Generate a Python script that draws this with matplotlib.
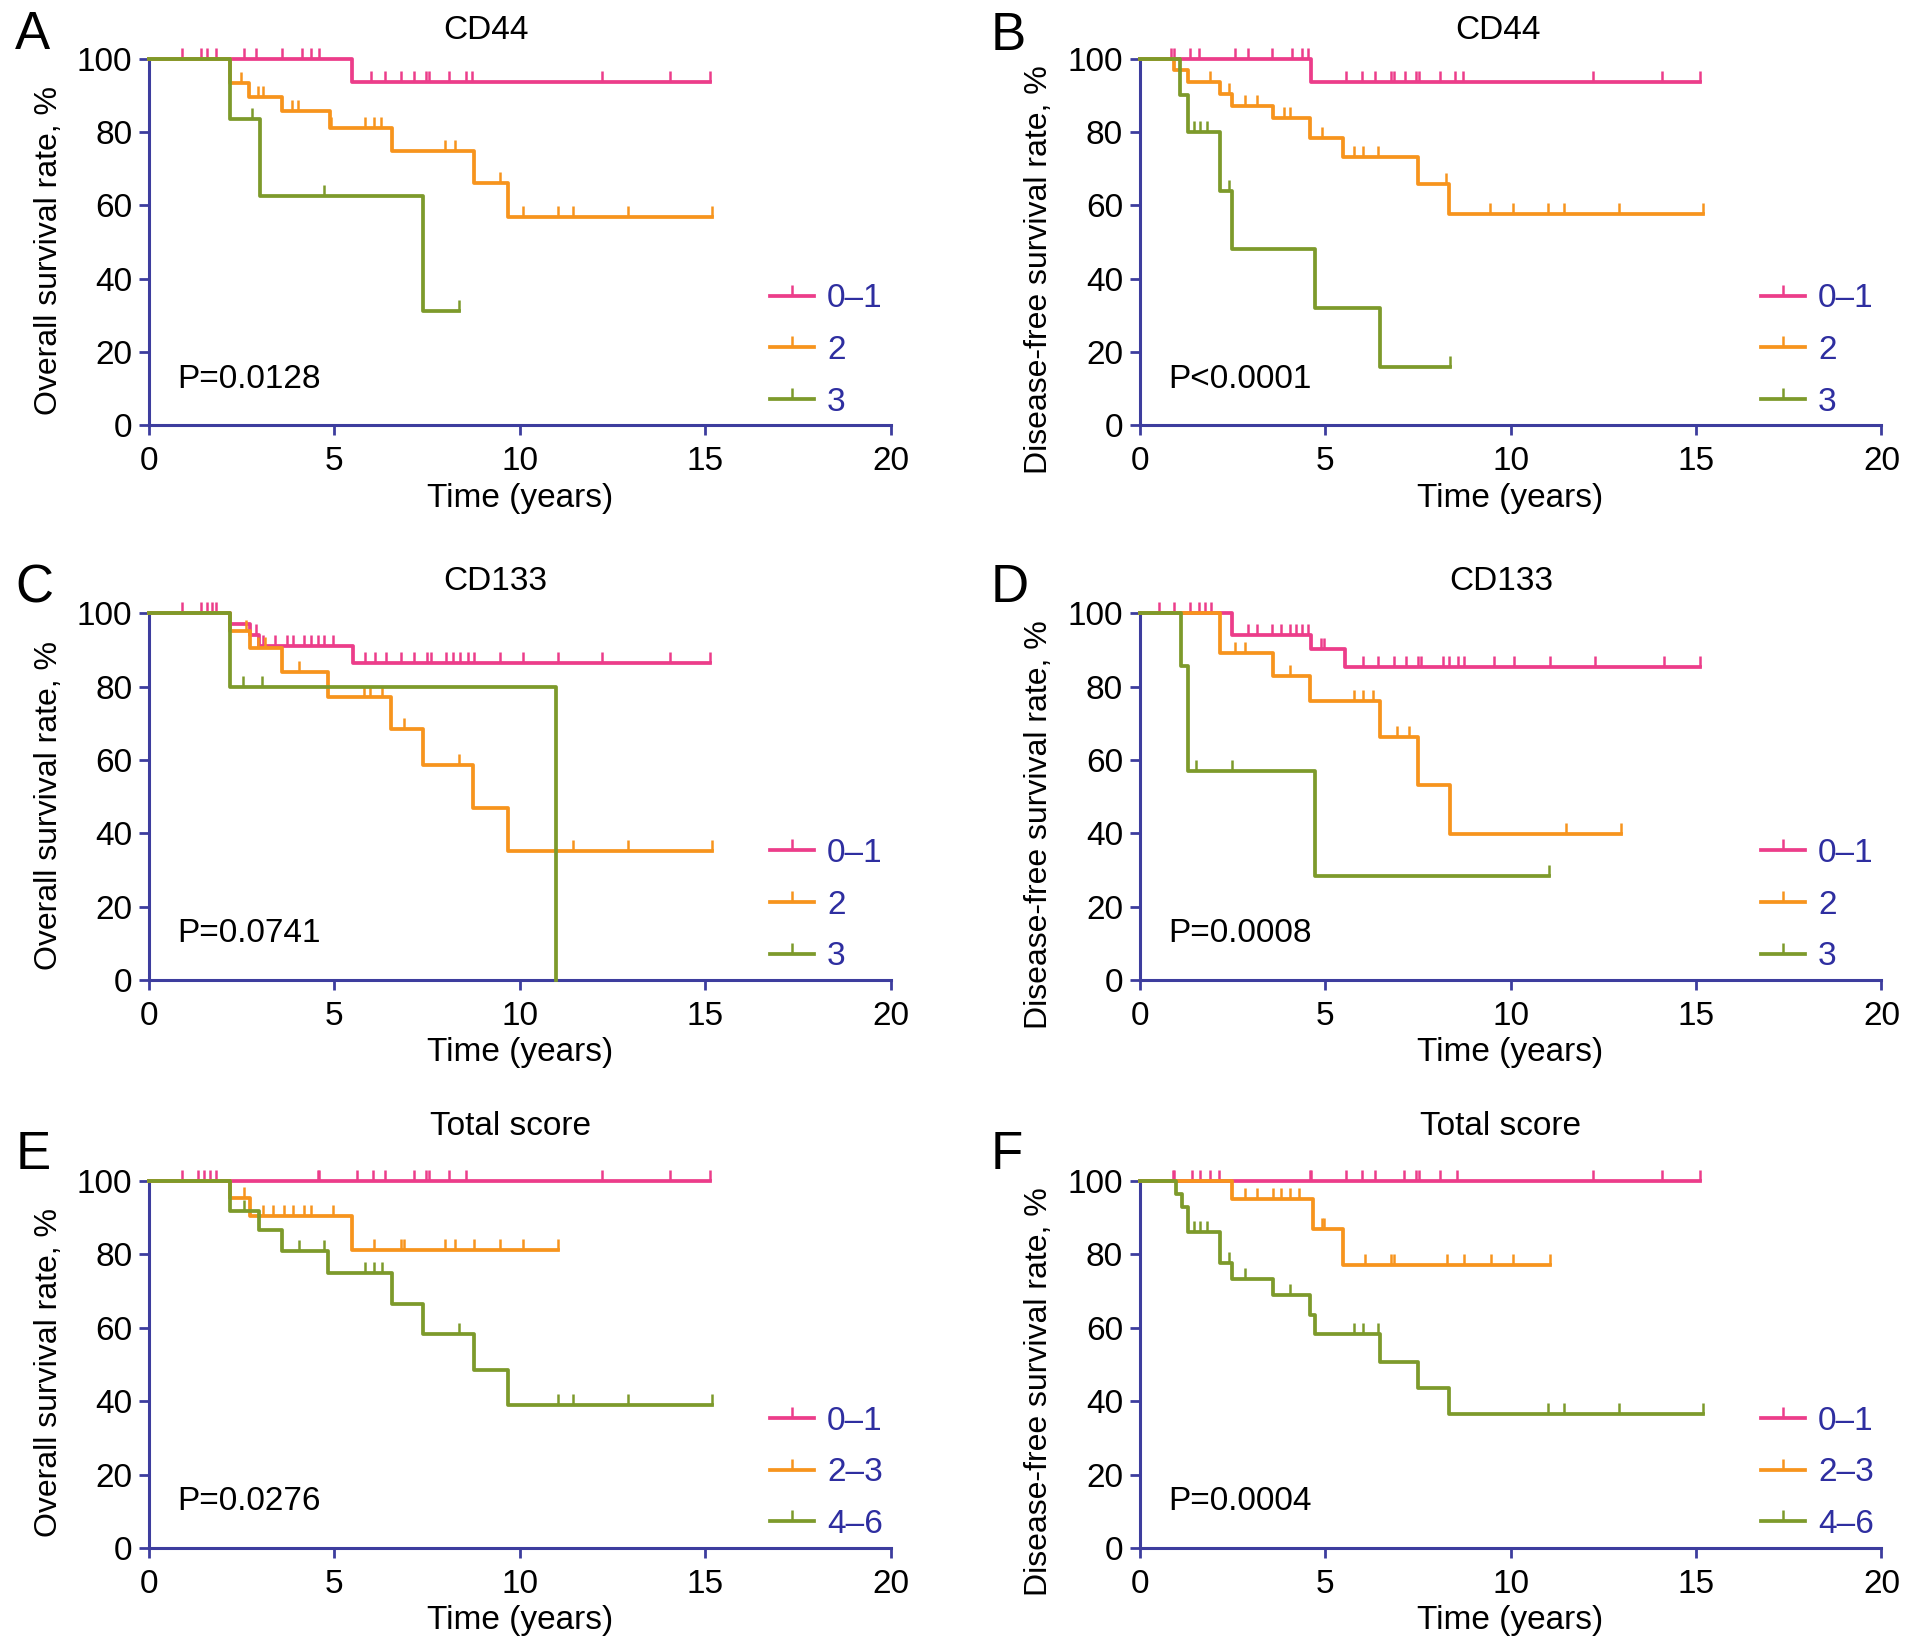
import numpy as np
import matplotlib
matplotlib.use("Agg")
import matplotlib.pyplot as plt
from matplotlib.lines import Line2D

plt.rcParams['font.family'] = ['Liberation Sans', 'DejaVu Sans']

# ---------------- data ----------------
panel_letters = ["A", "B", "C", "D", "E", "F"]
panel_titles = ["CD44", "CD44", "CD133", "CD133", "Total score", "Total score"]
y_labels = ["Overall survival rate, %", "Disease-free survival rate, %"] * 3
p_values = ["P=0.0128", "P<0.0001", "P=0.0741", "P=0.0008", "P=0.0276", "P=0.0004"]
group_labels_cd = ["0\u20131", "2", "3"]
group_labels_total = ["0\u20131", "2\u20133", "4\u20136"]
x_ticks = [0, 5, 10, 15, 20]
y_ticks = [0, 20, 40, 60, 80, 100]

# Panel A (CD44, OS)
A_g1_t = [5.49]; A_g1_s = [93.5]; A_g1_end = 15.12
A_g1_c = [0.9, 1.4, 1.57, 1.82, 2.56, 2.89, 3.59, 4.13, 4.38, 4.58, 5.98, 6.36, 6.81, 7.14, 7.47, 7.55, 8.1, 8.55, 8.71, 12.23, 14.05, 15.12]
A_g2_t = [2.2, 2.69, 3.59, 4.88, 6.56, 8.76, 9.67]; A_g2_s = [93.3, 89.6, 85.7, 81.1, 74.7, 66.1, 56.7]; A_g2_end = 15.17
A_g2_c = [2.48, 2.93, 3.09, 3.85, 4.02, 4.9, 5.82, 6.07, 6.25, 7.98, 8.26, 9.47, 10.08, 11.02, 11.44, 12.93, 15.17]
A_g3_t = [2.2, 3.0, 7.4]; A_g3_s = [83.4, 62.4, 31.2]; A_g3_end = 8.35
A_g3_c = [2.78, 4.71, 8.35]

# Panel B (CD44, DFS)
B_g1_t = [4.63]; B_g1_s = [93.5]; B_g1_end = 15.12
B_g1_c = [0.85, 0.94, 1.35, 1.6, 2.58, 2.91, 3.57, 4.11, 4.39, 4.55, 5.57, 6.0, 6.36, 6.77, 6.85, 7.15, 7.46, 7.54, 8.09, 8.5, 8.71, 12.23, 14.08, 15.12]
B_g2_t = [0.94, 1.31, 2.17, 2.5, 3.6, 4.6, 5.49, 7.51, 8.33]; B_g2_s = [96.8, 93.6, 90.4, 87.1, 83.9, 78.2, 73.2, 65.9, 57.6]; B_g2_end = 15.18
B_g2_c = [1.89, 2.42, 2.83, 3.16, 3.9, 4.06, 4.93, 5.78, 6.03, 6.44, 8.25, 9.45, 10.06, 11.01, 11.45, 12.93, 15.18]
B_g3_t = [1.1, 1.31, 2.17, 2.5, 4.72, 6.49]; B_g3_s = [90.0, 80.0, 64.0, 48.0, 32.0, 16.0]; B_g3_end = 8.38
B_g3_c = [1.48, 1.64, 1.81, 2.42, 8.38]

# Panel C (CD133, OS)
C_g1_t = [2.2, 2.73, 2.98, 5.5]; C_g1_s = [97.1, 94.1, 91.0, 86.3]; C_g1_end = 15.12
C_g1_c = [0.9, 1.4, 1.57, 1.7, 1.82, 2.89, 3.09, 3.39, 3.72, 3.88, 4.17, 4.38, 4.55, 4.71, 4.96, 5.82, 6.1, 6.4, 6.8, 7.14, 7.5, 7.6, 8.0, 8.2, 8.38, 8.6, 8.76, 9.47, 10.08, 11.02, 12.23, 14.05, 15.12]
C_g2_t = [2.2, 2.73, 3.59, 4.83, 6.53, 7.4, 8.73, 9.67]; C_g2_s = [95.2, 90.6, 83.9, 77.1, 68.5, 58.7, 46.9, 35.2]; C_g2_end = 15.17
C_g2_c = [2.61, 2.93, 3.14, 4.05, 5.79, 5.95, 6.28, 6.89, 8.35, 11.44, 12.93, 15.17]
C_g3_t = [2.2, 10.99]; C_g3_s = [80.0, 0.0]; C_g3_end = 10.99
C_g3_c = [2.53, 3.06]

# Panel D (CD133, DFS)
D_g1_t = [2.5, 4.63, 5.54]; D_g1_s = [94.0, 90.2, 85.4]; D_g1_end = 15.12
D_g1_c = [0.53, 0.94, 1.35, 1.59, 1.76, 1.92, 2.93, 3.16, 3.57, 3.81, 4.06, 4.22, 4.39, 4.55, 4.88, 4.96, 6.03, 6.44, 6.85, 7.18, 7.51, 7.59, 8.17, 8.33, 8.58, 8.74, 9.56, 10.09, 11.07, 12.27, 14.13, 15.12]
D_g2_t = [2.17, 3.6, 4.6, 6.49, 7.51, 8.36]; D_g2_s = [89.2, 82.8, 76.1, 66.2, 53.2, 39.8]; D_g2_end = 12.98
D_g2_c = [2.58, 2.83, 4.06, 5.78, 6.03, 6.28, 6.94, 7.26, 11.5, 12.98]
D_g3_t = [1.12, 1.31, 4.72]; D_g3_s = [85.7, 57.0, 28.5]; D_g3_end = 11.04
D_g3_c = [1.51, 2.5, 11.04]

# Panel E (Total score, OS)
E_g1_t = []; E_g1_s = []; E_g1_end = 15.12
E_g1_c = [0.9, 1.32, 1.49, 1.65, 1.82, 4.55, 4.59, 5.6, 6.03, 6.36, 7.16, 7.47, 7.55, 8.1, 8.55, 12.23, 14.05, 15.12]
E_g2_t = [2.2, 2.73, 5.49]; E_g2_s = [95.3, 90.5, 81.3]; E_g2_end = 11.02
E_g2_c = [2.56, 3.09, 3.35, 3.64, 3.88, 4.17, 4.38, 4.96, 6.08, 6.81, 6.89, 7.98, 8.26, 8.76, 9.47, 10.08, 11.02]
E_g3_t = [2.2, 2.98, 3.59, 4.83, 6.56, 7.4, 8.76, 9.67]; E_g3_s = [91.8, 86.7, 81.0, 74.9, 66.6, 58.3, 48.6, 38.9]; E_g3_end = 15.17
E_g3_c = [2.56, 4.05, 4.71, 5.82, 6.07, 6.28, 8.35, 11.02, 11.44, 12.93, 15.17]

# Panel F (Total score, DFS)
F_g1_t = []; F_g1_s = []; F_g1_end = 15.12
F_g1_c = [0.89, 0.94, 1.4, 1.63, 1.89, 2.14, 4.6, 4.63, 5.57, 6.0, 6.36, 7.13, 7.46, 7.54, 8.09, 8.55, 12.23, 14.08, 15.12]
F_g2_t = [2.5, 4.67, 5.49]; F_g2_s = [95.0, 86.9, 77.2]; F_g2_end = 11.07
F_g2_c = [2.83, 3.16, 3.6, 3.81, 4.06, 4.31, 4.93, 4.96, 6.08, 6.77, 6.85, 8.29, 8.74, 9.48, 10.06, 11.07]
F_g3_t = [0.99, 1.15, 1.31, 2.17, 2.5, 3.6, 4.6, 4.72, 6.49, 7.51, 8.33]
F_g3_s = [96.6, 93.0, 86.1, 77.7, 73.4, 68.9, 63.6, 58.2, 50.8, 43.7, 36.4]; F_g3_end = 15.18
F_g3_c = [1.48, 1.64, 1.81, 2.42, 2.83, 4.06, 5.78, 6.03, 6.44, 11.01, 11.45, 12.93, 15.18]

panels = [
    [(A_g1_t, A_g1_s, A_g1_end, A_g1_c), (A_g2_t, A_g2_s, A_g2_end, A_g2_c), (A_g3_t, A_g3_s, A_g3_end, A_g3_c)],
    [(B_g1_t, B_g1_s, B_g1_end, B_g1_c), (B_g2_t, B_g2_s, B_g2_end, B_g2_c), (B_g3_t, B_g3_s, B_g3_end, B_g3_c)],
    [(C_g1_t, C_g1_s, C_g1_end, C_g1_c), (C_g2_t, C_g2_s, C_g2_end, C_g2_c), (C_g3_t, C_g3_s, C_g3_end, C_g3_c)],
    [(D_g1_t, D_g1_s, D_g1_end, D_g1_c), (D_g2_t, D_g2_s, D_g2_end, D_g2_c), (D_g3_t, D_g3_s, D_g3_end, D_g3_c)],
    [(E_g1_t, E_g1_s, E_g1_end, E_g1_c), (E_g2_t, E_g2_s, E_g2_end, E_g2_c), (E_g3_t, E_g3_s, E_g3_end, E_g3_c)],
    [(F_g1_t, F_g1_s, F_g1_end, F_g1_c), (F_g2_t, F_g2_s, F_g2_end, F_g2_c), (F_g3_t, F_g3_s, F_g3_end, F_g3_c)],
]

# ---------------- style ----------------
colors = ["#ec3d8a", "#f7941d", "#7d9a2b"]
axis_color = "#3d3d9e"
legend_text_color = "#2e2ea0"
FS = 24

fig = plt.figure(figsize=(19.13, 16.48), dpi=100)

col_left = [0.0778, 0.5957]
row_bottom = [0.7419, 0.4053, 0.0607]
ax_w, ax_h = 0.3878, 0.2226
title_x = [0.454, 0.4836, 0.467, 0.487, 0.487, 0.487]
title_dy = [0.076, 0.076, 0.086, 0.086, 0.15, 0.15]
ylabel_y = [0.477, 0.425]
letter_pos = [(0.008, 0.979), (0.518, 0.978), (0.008, 0.643), (0.518, 0.643), (0.008, 0.299), (0.518, 0.299)]


def km_value(times, surv, t):
    idx = np.searchsorted(np.asarray(times, dtype=float), t, side='right')
    vals = np.concatenate([[100.0], np.asarray(surv, dtype=float)])
    return vals[idx]


for i in range(6):
    r, c = divmod(i, 2)
    ax = fig.add_axes([col_left[c], row_bottom[r], ax_w, ax_h])
    labels = group_labels_total if r == 2 else group_labels_cd
    handles = []
    for g, (times, surv, end, cens) in enumerate(panels[i]):
        xs = np.concatenate([[0.0], np.asarray(times, dtype=float), [end]])
        ys = np.concatenate([[100.0], np.asarray(surv, dtype=float), [surv[-1] if len(surv) else 100.0]])
        ax.step(xs, ys, where='post', color=colors[g], lw=2.7, zorder=3 + g, clip_on=False)
        cy = [km_value(times, surv, t) for t in cens]
        ax.plot(cens, cy, linestyle='none', marker=2, markersize=8, markeredgewidth=1.8,
                color=colors[g], zorder=3 + g, clip_on=False)
        handles.append(Line2D([0], [0], color=colors[g], lw=2.7, marker=2, markersize=8,
                              markeredgewidth=1.8, markevery=[1], label=labels[g]))
    ax.set_xlim(0, 20)
    ax.set_ylim(0, 100)
    ax.set_xticks(x_ticks)
    ax.set_yticks(y_ticks)
    for s in ['top', 'right']:
        ax.spines[s].set_visible(False)
    for s in ['left', 'bottom']:
        ax.spines[s].set_color(axis_color)
        ax.spines[s].set_linewidth(2.2)
    ax.tick_params(axis='both', direction='out', length=7, width=2.0, color=axis_color,
                   labelsize=FS, labelcolor='black', pad=5)
    ax.tick_params(axis='x', pad=8)
    ax.set_xlabel("Time (years)", fontsize=FS, labelpad=4)
    ax.set_ylabel(y_labels[i], fontsize=FS - 1)
    ax.yaxis.set_label_coords(-0.115, ylabel_y[c])
    ax.text(0.038, 0.126, p_values[i], transform=ax.transAxes, fontsize=FS,
            ha='left', va='center')
    ax.text(title_x[i], 1 + title_dy[i], panel_titles[i], transform=ax.transAxes,
            fontsize=FS, ha='center', va='center')
    leg = ax.legend(handles=handles, loc='lower left', bbox_to_anchor=(0.82, -0.015),
                    frameon=False, fontsize=FS, handlelength=1.3, handletextpad=0.4,
                    labelspacing=0.62, borderaxespad=0.0)
    for t in leg.get_texts():
        t.set_color(legend_text_color)
    fig.text(letter_pos[i][0], letter_pos[i][1], panel_letters[i], fontsize=38,
             ha='left', va='center')

fig.savefig("out.png", dpi=100)
